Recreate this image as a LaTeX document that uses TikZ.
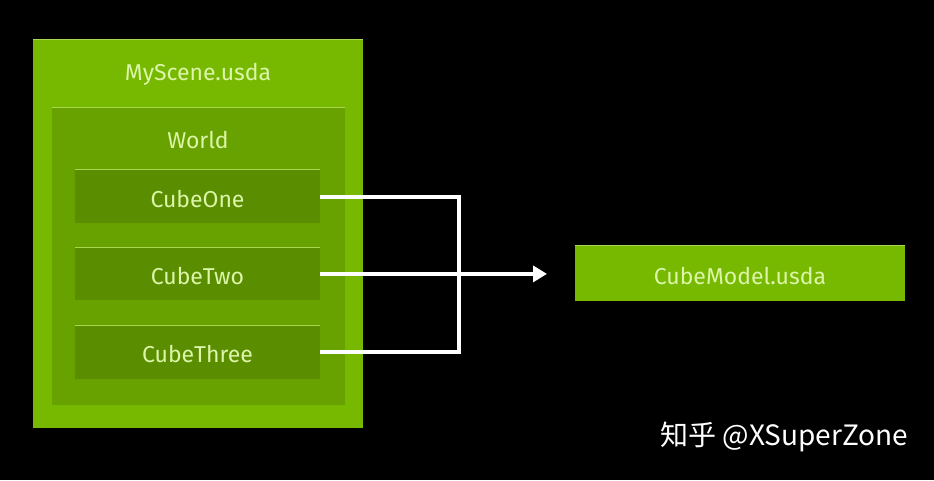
\documentclass[tikz,border=0pt]{standalone}
\usepackage{fontspec}
\setmainfont{Fira Sans}
\newfontfamily\cjk{Noto Sans CJK SC}
\usetikzlibrary{positioning,arrows.meta}
\definecolor{bggreen}{HTML}{76B900}
\definecolor{midgreen}{HTML}{67A200}
\definecolor{darkgreen}{HTML}{5A8E00}
\definecolor{hilite}{HTML}{A8D850}
\definecolor{labelgreen}{HTML}{DCF5A8}
\tikzset{
  box/.style={fill=#1, draw=none, inner sep=0pt},
  cube/.style={box=darkgreen, minimum width=245pt, minimum height=53pt,
    text=labelgreen, font=\fontsize{23}{27}\selectfont, text height=21pt, text depth=0pt},
  title/.style={text=labelgreen, font=\fontsize{23}{27}\selectfont},
  link/.style={white, line width=4pt},
}

\begin{document}
\begin{tikzpicture}[x=1pt,y=-1pt]
  \fill[black] (0,0) rectangle (934,480);
  \useasboundingbox (0,0) rectangle (934,480);
  % containers
  \node[box=bggreen, minimum width=330pt, minimum height=388pt] (scene) at (198,234) {};
  \node[title] (scenelabel) at (198,74) {MyScene.usda};
  \node[box=midgreen, minimum width=293pt, minimum height=297pt] (world) at (198.5,256.5) {};
  \node[title] (worldlabel) at (198,140) {World};
  % prims
  \node[cube] (cubeone) at (197.5,196.5) {CubeOne};
  \node[cube, below=24pt of cubeone] (cubetwo) {CubeTwo};
  \node[cube, below=25pt of cubetwo] (cubethree) {CubeThree};
  \node[cube, box=bggreen, minimum width=330pt, minimum height=55pt] (model) at (740,273.5) {CubeModel.usda};
  % top edges
  \foreach \n in {scene,world,cubeone,cubetwo,cubethree,model}
    \draw[hilite, line width=1pt] (\n.north west) -- (\n.north east);
  % references
  \coordinate (bus) at (459,273.5);
  \coordinate (target) at (547,0);
  \draw[link] (cubeone.east) -| (bus) |- (cubethree.east);
  \draw[link, -{Triangle[length=14pt,width=16pt]}] (cubetwo.east) -- (cubetwo.east -| target);
  % watermark
  \node[white, anchor=east, inner sep=0pt, font=\cjk\fontsize{28}{32}\selectfont] (mark) at (908,437) {知乎 @XSuperZone};
\end{tikzpicture}
\end{document}
